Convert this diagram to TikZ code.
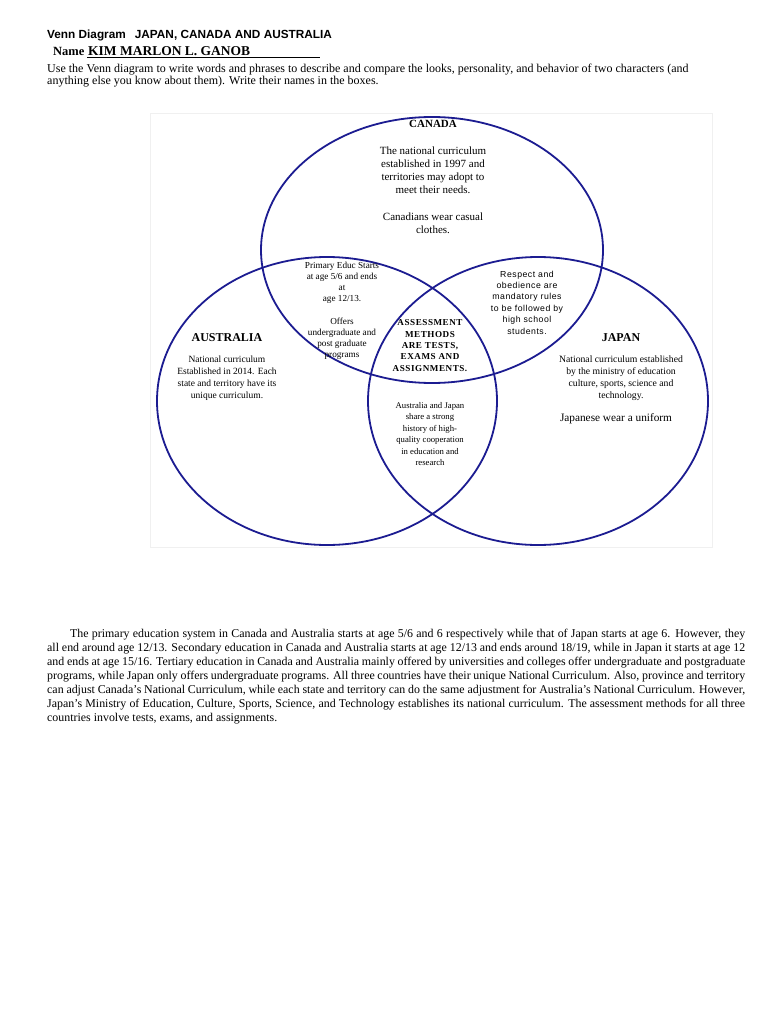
\documentclass[tikz,border=0pt]{standalone}
\usepackage{fontspec}
\usetikzlibrary{shapes.geometric}
\setmainfont{Liberation Serif}
\newfontfamily\arialfont{Liberation Sans}
\newfontfamily\spacedserif[LetterSpace=6]{Liberation Serif}
\newfontfamily\spacedsans[LetterSpace=6]{Liberation Sans}
\definecolor{vennblue}{RGB}{28,28,145}
\begin{document}
\begin{tikzpicture}[x=1pt,y=-1pt,
  venn/.style={draw=vennblue,line width=1.8pt},
  txt/.style={inner sep=0pt,align=center},
  body/.style={txt,font=\fontsize{11}{13}\selectfont},
  small/.style={txt,font=\fontsize{9.2}{11}\selectfont},
  smallb/.style={txt,font=\fontsize{8.6}{11.4}\selectfont},
  head/.style={txt,font=\fontsize{12}{14}\selectfont\bfseries},
  paraline/.style={inner sep=0pt,anchor=base west,font=\fontsize{11.9}{13}\selectfont}]
\useasboundingbox[fill=white] (0,0) rectangle (768,1024);

% header
\node[anchor=base west,inner sep=0pt,font=\arialfont\fontsize{11.8}{13}\selectfont\bfseries] (title) at (47,39) {Venn Diagram\hspace{9pt}JAPAN, CANADA AND AUSTRALIA};
\node[anchor=base west,inner sep=0pt,font=\fontsize{12.5}{13}\selectfont\bfseries] (namelbl) at (53,55.5) {Name};
\node[anchor=base west,inner sep=0pt,font=\fontsize{13.5}{14}\selectfont\bfseries] (name) at (88,55.5) {KIM MARLON L. GANOB};
\coordinate (ulA) at (87,57.5);
\coordinate (ulB) at (320,57.5);
\draw[line width=0.8pt] (ulA) -- (ulB);
\node[anchor=base west,inner sep=0pt,font=\fontsize{12}{12}\selectfont] (instr1) at (47,73) {Use the Venn diagram to write words and phrases to describe and compare the looks, personality, and behavior of two characters (and};
\node[anchor=base west,inner sep=0pt,font=\fontsize{12}{12}\selectfont] (instr2) at (47,85) {anything else you know about them). Write their names in the boxes.};

% faint picture frame
\draw[black!6,line width=0.6pt] (150,113) rectangle (712,547);

% circles
\node[venn,ellipse,minimum width=342pt,minimum height=266pt,inner sep=0pt] (canada) at (432,250) {};
\node[venn,ellipse,minimum width=340pt,minimum height=288pt,inner sep=0pt] (australia) at (327,401) {};
\node[venn,ellipse,minimum width=340pt,minimum height=288pt,inner sep=0pt] (japan) at (538,401) {};

% Canada
\node[head,font=\fontsize{11}{13}\selectfont\bfseries] (canT) at (433,124) {CANADA};
\node[body] (can1) at (433,170.5) {The national curriculum\\established in 1997 and\\territories may adopt to\\meet their needs.};
\node[body] (can2) at (433,223.5) {Canadians wear casual\\clothes.};

% Australia & Canada
\node[small] (ac1) at (342,282.5) {Primary Educ Starts\\at age 5/6 and ends\\at\\age 12/13.};
\node[small] (ac2) at (342,338.5) {Offers\\undergraduate and\\post graduate\\programs};

% centre
\node[smallb,font=\spacedserif\fontsize{9.1}{11.4}\selectfont\bfseries] (all) at (430,345.5) {ASSESSMENT\\METHODS\\ARE TESTS,\\EXAMS AND\\ASSIGNMENTS.};

% Canada & Japan
\node[txt,font=\spacedsans\fontsize{8.7}{11.4}\selectfont] (cj) at (527,302.5) {Respect and\\obedience are\\mandatory rules\\to be followed by\\high school\\students.};

% Australia
\node[head] (ausT) at (227,338) {AUSTRALIA};
\node[txt,font=\fontsize{9.5}{12}\selectfont] (aus1) at (227,378) {National curriculum\\Established in 2014. Each\\state and territory have its\\unique curriculum.};

% Japan
\node[head] (japT) at (621,338) {JAPAN};
\node[txt,font=\fontsize{9.7}{12}\selectfont] (jap1) at (621,378) {National curriculum established\\by the ministry of education\\culture, sports, science and\\technology.};
\node[txt,font=\fontsize{11.3}{13}\selectfont] (jap2) at (616,419) {Japanese wear a uniform};

% Australia & Japan
\node[txt,font=\fontsize{8.7}{11.5}\selectfont] (aj) at (430,434) {Australia and Japan\\share a strong\\history of high-\\quality cooperation\\in education and\\research};

% paragraph
\node[paraline] (p1) at (70,637.5) {\makebox[675pt][s]{The primary education system in Canada and Australia starts at age 5/6 and 6 respectively while that of Japan starts at age 6. However, they}};
\node[paraline] (p2) at (47,651.5) {\makebox[698pt][s]{all end around age 12/13. Secondary education in Canada and Australia starts at age 12/13 and ends around 18/19, while in Japan it starts at age 12}};
\node[paraline] (p3) at (47,665.5) {\makebox[698pt][s]{and ends at age 15/16. Tertiary education in Canada and Australia mainly offered by universities and colleges offer undergraduate and postgraduate}};
\node[paraline] (p4) at (47,679.5) {\makebox[698pt][s]{programs, while Japan only offers undergraduate programs. All three countries have their unique National Curriculum. Also, province and territory}};
\node[paraline] (p5) at (47,693.5) {\makebox[698pt][s]{can adjust Canada's National Curriculum, while each state and territory can do the same adjustment for Australia's National Curriculum. However,}};
\node[paraline] (p6) at (47,707.5) {\makebox[698pt][s]{Japan's Ministry of Education, Culture, Sports, Science, and Technology establishes its national curriculum. The assessment methods for all three}};
\node[paraline] (p7) at (47,721.5) {countries involve tests, exams, and assignments.};
\end{tikzpicture}
\end{document}
